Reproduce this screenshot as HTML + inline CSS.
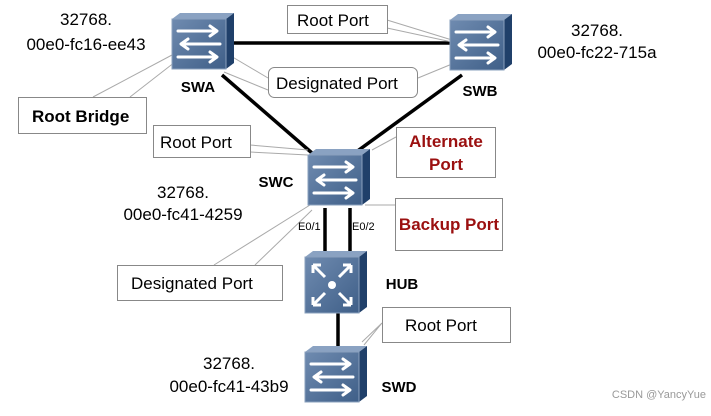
<!DOCTYPE html>
<html><head><meta charset="utf-8"><style>
body{margin:0;background:#fff;width:711px;height:411px;overflow:hidden}
text{font-family:"Liberation Sans",sans-serif}
</style></head><body>
<svg width="711" height="411" viewBox="0 0 711 411" xmlns="http://www.w3.org/2000/svg">
<defs>
<linearGradient id="fg" x1="0" y1="0" x2="1" y2="1"><stop offset="0" stop-color="#6f8bb0"/><stop offset="1" stop-color="#3f5f88"/></linearGradient>
<g id="sw">
<polygon points="0,6 8,0 62,0 54,6" fill="#8aa2c2"/>
<polygon points="54,6 62,0 62,50 54,56" fill="#20406a"/>
<rect x="0" y="6" width="54" height="50" fill="url(#fg)" stroke="#8aa0bd" stroke-width="1"/>
<g stroke="#fff" stroke-width="3" fill="none" stroke-linecap="round" stroke-linejoin="round">
<path d="M6,18 H44 M38,13 L45,18 L38,23"/>
<path d="M48,31 H10 M16,26 L9,31 L16,36"/>
<path d="M6,44 H44 M38,39 L45,44 L38,49"/>
</g>
</g>
<g id="hub">
<polygon points="0,6 8,0 62,0 54,6" fill="#8aa2c2"/>
<polygon points="54,6 62,0 62,56 54,62" fill="#20406a"/>
<rect x="0" y="6" width="54" height="56" fill="url(#fg)" stroke="#8aa0bd"/>
<g stroke="#fff" stroke-width="3" fill="none">
<path d="M8,14 L20,26 M8,14 h8 M8,14 v8"/>
<path d="M46,14 L34,26 M46,14 h-8 M46,14 v8"/>
<path d="M8,54 L20,42 M8,54 h8 M8,54 v-8"/>
<path d="M46,54 L34,42 M46,54 h-8 M46,54 v-8"/>
</g>
<circle cx="27" cy="34" r="4" fill="#fff"/>
</g>
</defs>
<!-- links -->
<g stroke="#000" stroke-width="3.5">
<line x1="226" y1="43" x2="452" y2="43"/>
<line x1="222" y1="75" x2="312" y2="153"/>
<line x1="462" y1="75" x2="352" y2="155"/>
<line x1="325" y1="208" x2="325" y2="255"/>
<line x1="350" y1="208" x2="350" y2="255"/>
<line x1="338" y1="312" x2="338" y2="350"/>
</g>
<!-- leader lines -->
<g stroke="#aaa" stroke-width="1" fill="none">
<path d="M93,97 L172,55 M130,97 L175,62"/>
<path d="M387,20 L452,40 M387,28 L452,42"/>
<path d="M268,78 L224,52 M268,90 L224,72 M418,78 L452,64"/>
<path d="M250,145 L308,150 M250,152 L308,155"/>
<path d="M396,137 L372,150"/>
<path d="M395,205 L365,205"/>
<path d="M214,265 L310,205 M255,265 L312,210"/>
<path d="M382,323 L362,342 M382,323 L364,345"/>
</g>
<!-- callout boxes -->
<g fill="#fff" stroke="#888" stroke-width="1">
<rect x="287.5" y="5.5" width="100" height="28"/>
<rect x="268.5" y="67.5" width="149" height="30" rx="6"/>
<rect x="18.5" y="97.5" width="128" height="36"/>
<rect x="153.5" y="125.5" width="97" height="32"/>
<rect x="396.5" y="127.5" width="99" height="50"/>
<rect x="395.5" y="198.5" width="107" height="52"/>
<rect x="117.5" y="265.5" width="165" height="35"/>
<rect x="382.5" y="307.5" width="128" height="35"/>
</g>
<!-- devices -->
<use href="#sw" x="172" y="13"/>
<use href="#sw" x="450" y="14"/>
<use href="#sw" x="308" y="149"/>
<use href="#hub" x="305" y="251"/>
<use href="#sw" x="305" y="346"/>
<g font-size="17" fill="#000">
<text x="297" y="26">Root Port</text>
<text x="276" y="89">Designated Port</text>
<text x="160" y="148">Root Port</text>
<text x="131" y="289">Designated Port</text>
<text x="405" y="331">Root Port</text>
<text x="86" y="25" text-anchor="middle">32768.</text>
<text x="86" y="50" text-anchor="middle">00e0-fc16-ee43</text>
<text x="597" y="36" text-anchor="middle">32768.</text>
<text x="597" y="58" text-anchor="middle">00e0-fc22-715a</text>
<text x="183" y="198" text-anchor="middle">32768.</text>
<text x="183" y="220" text-anchor="middle">00e0-fc41-4259</text>
<text x="229" y="369" text-anchor="middle">32768.</text>
<text x="229" y="392" text-anchor="middle">00e0-fc41-43b9</text>
</g>
<g font-size="17" font-weight="bold">
<text x="32" y="122">Root Bridge</text>
<text x="446" y="147" text-anchor="middle" fill="#9b1010">Alternate</text>
<text x="446" y="170" text-anchor="middle" fill="#9b1010">Port</text>
<text x="449" y="230" text-anchor="middle" fill="#9b1010">Backup Port</text>
</g>
<g font-size="15" font-weight="bold">
<text x="198" y="92" text-anchor="middle">SWA</text>
<text x="480" y="96" text-anchor="middle">SWB</text>
<text x="276" y="187" text-anchor="middle">SWC</text>
<text x="402" y="289" text-anchor="middle">HUB</text>
<text x="399" y="392" text-anchor="middle">SWD</text>
</g>
<g font-size="11">
<text x="298" y="230">E0/1</text>
<text x="352" y="230">E0/2</text>
</g>
<text x="706" y="398" font-size="11" fill="#999" text-anchor="end">CSDN @YancyYue</text>
</svg>
</body></html>
